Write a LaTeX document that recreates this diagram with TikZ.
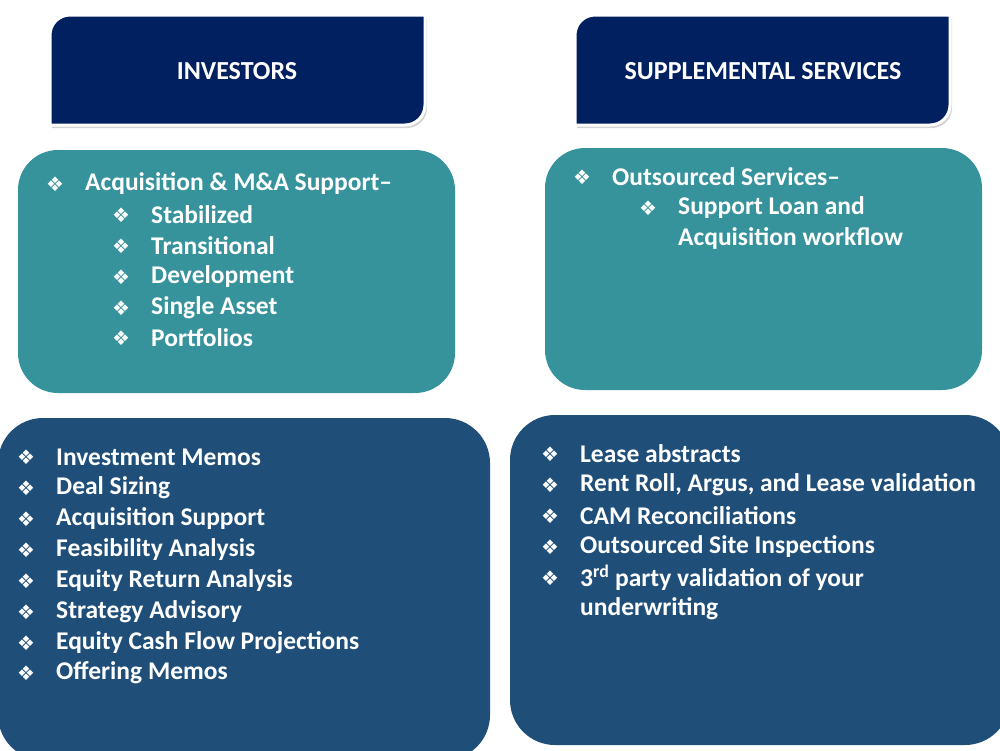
\documentclass[tikz,border=0pt]{standalone}
\usepackage{fontspec}
\setmainfont{Carlito}
\newfontfamily\symfont{DejaVu Sans}
\usetikzlibrary{shadows}
\definecolor{navy}{HTML}{002060}
\definecolor{tealbox}{HTML}{37939B}
\definecolor{darkbox}{HTML}{1F4E79}
\tikzset{
  txt/.style={anchor=west,text=white,font=\fontsize{25.5}{30}\selectfont\bfseries,inner sep=0pt},
  bul/.style={anchor=center,text=white,font=\symfont\fontsize{20}{24}\selectfont,inner sep=0pt},
  hdr/.style={fill=navy,draw=white,line width=3pt,drop shadow={opacity=0.35,shadow xshift=2pt,shadow yshift=-3pt}},
  head/.style={text=white,font=\fontsize{26}{30}\selectfont\bfseries},
}
\newcommand{\itm}[4]{% name, bullet x, y, text
  \node[bul] (#1b) at (#2,#3) {❖};
  \node[txt] (#1) at (#2+30,#3) {#4};}
\begin{document}
\begin{tikzpicture}[x=1pt,y=-1pt]
\useasboundingbox (0,0) rectangle (1000,750);
\clip (0,0) rectangle (1000,750);
% headers
\path[hdr] (50,70) [rounded corners=20pt]-- (50,15) [sharp corners]-- (425,15) [rounded corners=20pt]-- (425,125) [sharp corners]-- (50,125) -- cycle;
\path[hdr] (575,70) [rounded corners=20pt]-- (575,15) [sharp corners]-- (950,15) [rounded corners=20pt]-- (950,125) [sharp corners]-- (575,125) -- cycle;
\node[head] (inv) at (237,71) {INVESTORS};
\node[head] (sup) at (763,71) {SUPPLEMENTAL SERVICES};
% boxes
\fill[tealbox,rounded corners=40pt] (18,150) rectangle (455,393);
\fill[tealbox,rounded corners=40pt] (545,148) rectangle (982,390);
\fill[darkbox,rounded corners=45pt] (-2,418) rectangle (490,760);
\fill[darkbox,rounded corners=45pt] (510,415) rectangle (1010,745);
% left teal
\itm{a0}{55}{184}{Acquisition \& M\&A Support–}
\itm{a1}{121}{215}{Stabilized}
\itm{a2}{121}{246}{Transitional}
\itm{a3}{121}{277}{Development}
\itm{a4}{121}{308}{Single Asset}
\itm{a5}{121}{338}{Portfolios}
% right teal
\itm{b0}{582}{177}{Outsourced Services–}
\itm{b1}{648}{208}{Support Loan and}
\node[txt] (b2) at (678,239) {Acquisition workflow};
% left dark
\itm{c1}{26}{457}{Investment Memos}
\itm{c2}{26}{488}{Deal Sizing}
\itm{c3}{26}{519}{Acquisition Support}
\itm{c4}{26}{550}{Feasibility Analysis}
\itm{c5}{26}{581}{Equity Return Analysis}
\itm{c6}{26}{612}{Strategy Advisory}
\itm{c7}{26}{643}{Equity Cash Flow Projections}
\itm{c8}{26}{673}{Offering Memos}
% right dark
\itm{d1}{550}{454}{Lease abstracts}
\itm{d2}{550}{485}{Rent Roll, Argus, and Lease validation}
\itm{d3}{550}{516}{CAM Reconciliations}
\itm{d4}{550}{547}{Outsourced Site Inspections}
\itm{d5}{550}{578}{3\textsuperscript{rd} party validation of your}
\node[txt] (d6) at (580,609) {underwriting};
\end{tikzpicture}
\end{document}
